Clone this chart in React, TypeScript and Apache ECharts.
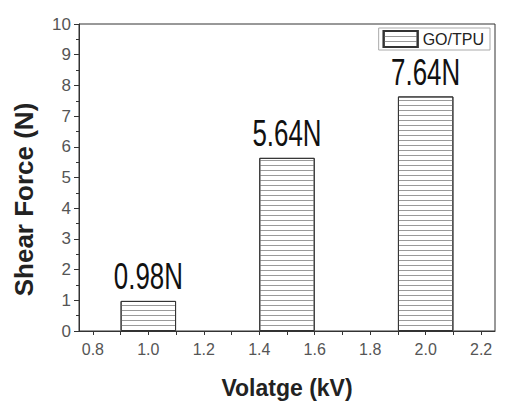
import React, { useEffect, useRef } from "react";
import * as echarts from "echarts";

const voltages = [1.0, 1.5, 2.0];
const shearForces = [0.98, 5.64, 7.64];
const xTickLabels = [0.8, 1.0, 1.2, 1.4, 1.6, 1.8, 2.0, 2.2];
const xTickMarks = [0.8, 0.9, 1.0, 1.1, 1.2, 1.3, 1.4, 1.5, 1.6, 1.7, 1.8, 1.9, 2.0, 2.1, 2.2];
const seriesName = "GO/TPU";

export default function App() {
  const ref = useRef<HTMLDivElement>(null);
  useEffect(() => {
    if (!ref.current) return;
    const chart = echarts.init(ref.current, null, { renderer: "svg" });
    const hatch = {
      symbol: "rect",
      symbolSize: 1,
      dashArrayX: [1, 0],
      dashArrayY: [1, 4],
      rotation: 0,
      color: "#9a9a9a",
      backgroundColor: "#ffffff",
    };
    chart.setOption({
      animation: false,
      backgroundColor: "#ffffff",
      textStyle: { fontFamily: "'Liberation Sans', Arial, sans-serif" },
      grid: {
        left: 79,
        top: 24,
        right: 28,
        bottom: 73,
        show: true,
        borderColor: "#333",
        borderWidth: 1,
        backgroundColor: "transparent",
      },
      legend: {
        show: true,
        right: 33,
        top: 28,
        orient: "vertical",
        itemWidth: 34,
        itemHeight: 16,
        itemGap: 4,
        padding: [2, 6, 2, 4],
        borderColor: "#aaa",
        borderWidth: 1,
        textStyle: { fontSize: 16, color: "#222", fontFamily: "'Liberation Sans', Arial, sans-serif" },
        data: [{ name: seriesName, icon: "rect" }],
      },
      xAxis: {
        type: "value",
        min: 0.75,
        max: 2.25,
        name: "Volatge (kV)",
        nameLocation: "middle",
        nameGap: 45,
        nameTextStyle: { fontSize: 23, fontWeight: "bold", color: "#222" },
        axisLine: { show: true, lineStyle: { color: "#333", width: 1 } },
        axisTick: {
          show: true,
          inside: false,
          length: 4,
          customValues: xTickMarks,
          lineStyle: { color: "#333" },
        },
        axisLabel: {
          customValues: xTickLabels,
          formatter: (v: number) => v.toFixed(1),
          fontSize: 16,
          color: "#555",
          margin: 10,
        },
        splitLine: { show: false },
      },
      yAxis: {
        type: "value",
        min: 0,
        max: 10,
        interval: 1,
        name: "Shear Force (N)",
        nameLocation: "middle",
        nameGap: 42,
        nameTextStyle: {
          fontSize: 26,
          fontWeight: "bold",
          color: "#222",
          padding: [0, 44, 0, 0],
        },
        axisLine: { show: true, lineStyle: { color: "#333", width: 1 } },
        axisTick: { show: true, inside: false, length: 5, lineStyle: { color: "#333" } },
        minorTick: { show: true, splitNumber: 2, length: 3, lineStyle: { color: "#333" } },
        axisLabel: { fontSize: 17, color: "#555", margin: 8 },
        splitLine: { show: false },
        minorSplitLine: { show: false },
      },
      series: [
        {
          name: seriesName,
          type: "bar",
          barWidth: "40%",
          data: voltages.map((v, i) => [v, shearForces[i]]),
          itemStyle: {
            color: "#ffffff",
            borderColor: "#333",
            borderWidth: 1,
            decal: hatch,
          },
          label: { show: false },
        },
      ],
    });

    // Condensed value labels above each bar, positioned through the chart's scales
    const labels = voltages.map((v, i) => {
      const [px, py] = chart.convertToPixel({ gridIndex: 0 }, [v, shearForces[i]]) as number[];
      const text = shearForces[i].toFixed(2) + "N";
      return {
        type: "text",
        x: px,
        y: py - 6,
        scaleX: 0.7,
        scaleY: 1,
        silent: true,
        style: {
          text,
          fill: "#111",
          font: "37px 'Liberation Sans', Arial, sans-serif",
          fontSize: 37,
          fontFamily: "'Liberation Sans', Arial, sans-serif",
          textAlign: "center",
          textVerticalAlign: "bottom",
          align: "center",
          verticalAlign: "bottom",
        },
      };
    });
    chart.setOption({ graphic: labels });
    return () => chart.dispose();
  }, []);
  return (
    <div
      ref={ref}
      style={{ position: "fixed", left: 0, top: 0, width: 523, height: 404 }}
    />
  );
}
